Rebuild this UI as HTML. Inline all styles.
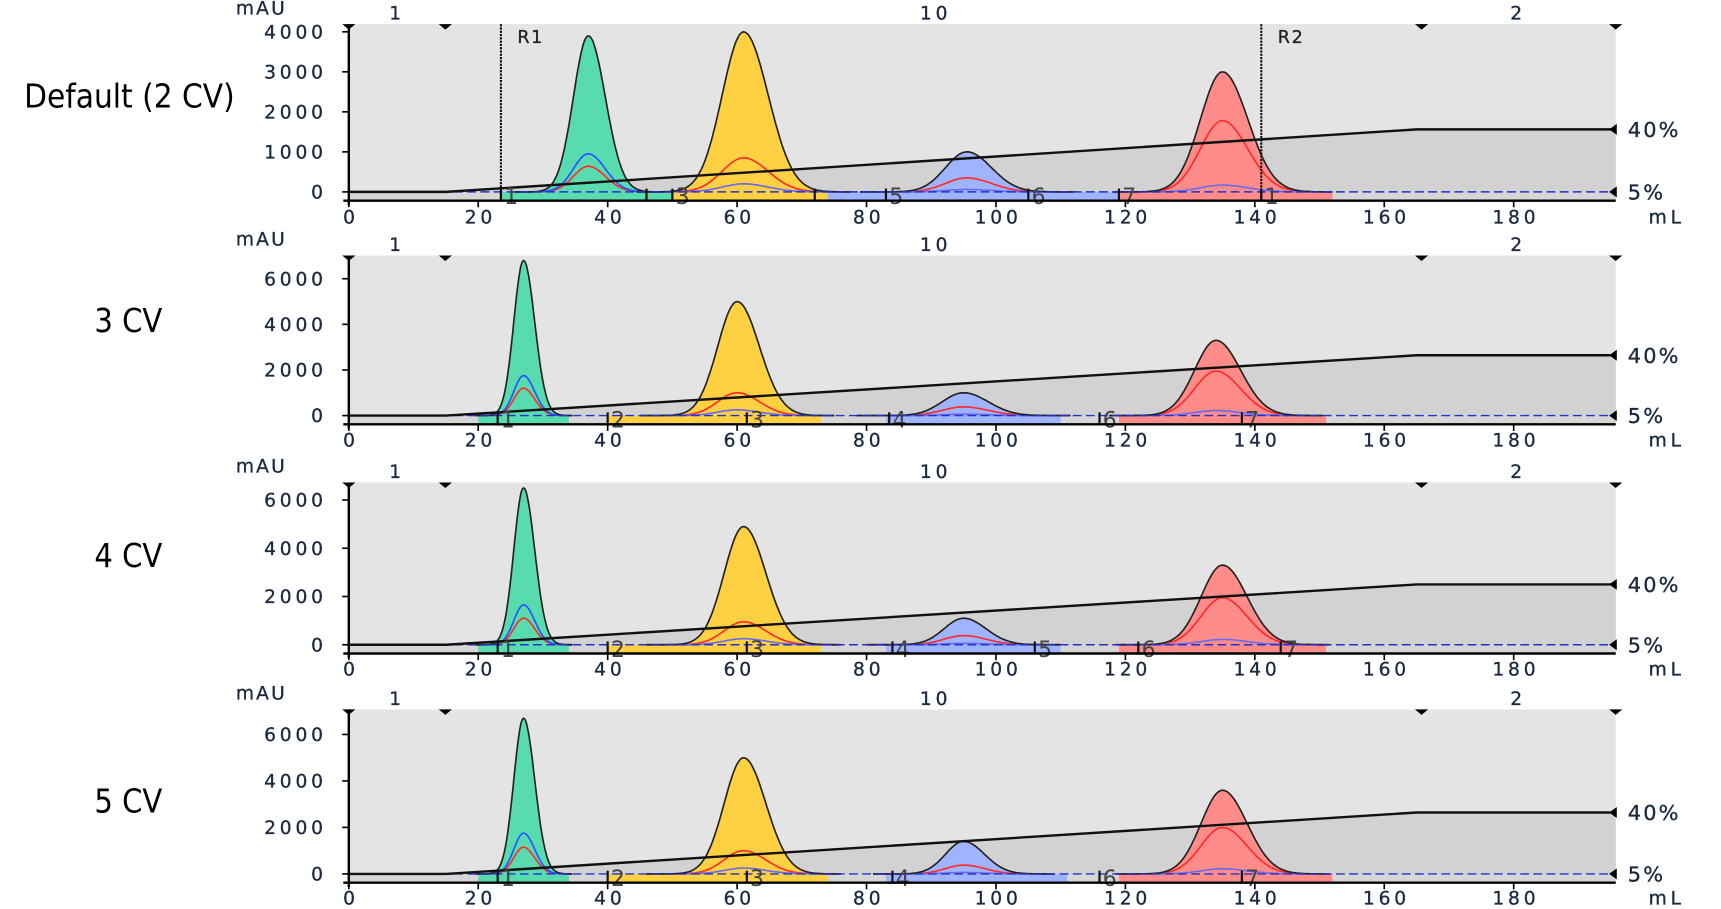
<!DOCTYPE html>
<html><head><meta charset="utf-8"><style>
html,body{margin:0;padding:0;background:#fff;width:1721px;height:909px;overflow:hidden}
svg{display:block}
text{font-family:"DejaVu Sans",sans-serif}
</style></head><body>
<svg id="s" width="1721" height="909" viewBox="0 0 1569 829" preserveAspectRatio="none" xmlns="http://www.w3.org/2000/svg">
<text x="22" y="98" font-family="Liberation Sans Narrow, Liberation Sans, sans-serif" font-size="30" textLength="192" lengthAdjust="spacingAndGlyphs" fill="#000">Default (2 CV)</text>
<text x="86" y="303" font-family="Liberation Sans, sans-serif" font-size="30" textLength="62" lengthAdjust="spacingAndGlyphs" fill="#000">3 CV</text>
<text x="86" y="517" font-family="Liberation Sans, sans-serif" font-size="30" textLength="62" lengthAdjust="spacingAndGlyphs" fill="#000">4 CV</text>
<text x="86" y="741" font-family="Liberation Sans, sans-serif" font-size="30" textLength="62" lengthAdjust="spacingAndGlyphs" fill="#000">5 CV</text>
</svg>
<script>
const S=document.getElementById('s');const NS='http://www.w3.org/2000/svg';
function el(t,a,txt){const e=document.createElementNS(NS,t);for(const k in a)e.setAttribute(k,a[k]);if(txt!==undefined)e.textContent=txt;S.appendChild(e);return e;}
const X0=318,PX=5.9,XR=1473;const X=v=>X0+v*PX;
const panels=[
{top:22,y0:175,sc:36.5,ticks:[0,1000,2000,3000,4000],y40:118,ax:183,lab:197,
 peaks:[[37,3900,2.3,'#58dcaf',950,640],[61,4000,3.3,'#ffd042',200,850],[95.5,1000,3.3,'#9fb4ff',60,350],[135,3000,3.4,'#ff8c88',170,1780]],
 fr:[[23.5,50,'#58dcaf'],[50,74,'#ffd042'],[74,119,'#9fb4ff'],[119,152,'#ff8c88']],
 fm:[[23.5,'1'],[46,''],[50,'3'],[72,''],[83,'5'],[105,'6'],[119,'7'],[141,'1']],R:true},
{top:233,y0:379,sc:20.8,ticks:[0,2000,4000,6000],y40:324,ax:387,lab:400,
 peaks:[[27,6800,1.5,'#58dcaf',1750,1200],[60,5000,3.0,'#ffd042',250,1000],[95,1000,3.3,'#9fb4ff',60,380],[134,3300,3.3,'#ff8c88',220,1950]],
 fr:[[20,34,'#58dcaf'],[40,73,'#ffd042'],[83,110,'#9fb4ff'],[119,151,'#ff8c88']],
 fm:[[23,'1'],[40,'2'],[61.5,'3'],[83.5,'4'],[116,'6'],[138,'7']]},
{top:440,y0:588,sc:22,ticks:[0,2000,4000,6000],y40:533,ax:596,lab:609,
 peaks:[[27,6500,1.5,'#58dcaf',1650,1100],[61,4900,3.0,'#ffd042',250,950],[95,1100,3.0,'#9fb4ff',60,380],[135,3300,3.3,'#ff8c88',220,1950]],
 fr:[[20,34,'#58dcaf'],[40,73,'#ffd042'],[83,110,'#9fb4ff'],[119,151,'#ff8c88']],
 fm:[[23,'1'],[40,'2'],[61.5,'3'],[84,'4'],[106,'5'],[122,'6'],[144,'7']]},
{top:647,y0:797,sc:21.2,ticks:[0,2000,4000,6000],y40:741,ax:805,lab:818,
 peaks:[[27,6700,1.5,'#58dcaf',1750,1150],[61,5000,3.0,'#ffd042',250,1000],[95,1400,2.8,'#9fb4ff',60,380],[135,3600,3.3,'#ff8c88',220,2000]],
 fr:[[20,34,'#58dcaf'],[40,74,'#ffd042'],[83,111,'#9fb4ff'],[119,152,'#ff8c88']],
 fm:[[23,'1'],[40,'2'],[61.5,'3'],[84,'4'],[116,'6'],[138,'7']]}
];
const C='#1a2a40';
const TS={'font-size':17,fill:C,'letter-spacing':3.5,stroke:C,'stroke-width':0.3};
function T(x,y,s,extra){return el('text',Object.assign({x:x,y:y},TS,extra||{}),s);}
panels.forEach(p=>{
 const Y=v=>p.y0-v*p.sc/1000;
 el('rect',{x:X0,y:p.top,width:XR-X0,height:p.ax-p.top,fill:'#e4e4e4'});
 const g=`M${X0},${p.y0} L${X(15)},${p.y0} L${X(165)},${p.y40} L${XR},${p.y40} L${XR},${p.ax} L${X0},${p.ax}Z`;
 el('path',{d:g,fill:'#d2d2d2'});
 el('rect',{x:X0,y:p.y0,width:XR-X0,height:p.ax-p.y0,fill:'#d6d6d6'});
 p.fr.forEach(f=>el('rect',{x:X(f[0]),y:p.y0,width:X(f[1])-X(f[0]),height:p.ax-p.y0-1,fill:f[2]}));
 p.peaks.forEach(k=>{
  const [c,h,sg,col,hb,hr]=k;
  const pts=[];for(let v=c-5*sg;v<=c+5*sg+0.01;v+=sg/10){const s=v>c?1.15:1;const zz=(v-c)/(sg*s);pts.push([X(v),Math.exp(-zz*zz/2)]);}
  const d=f=>pts.map((q,i)=>(i?'L':'M')+q[0].toFixed(1)+','+(p.y0-q[1]*f*p.sc/1000).toFixed(1)).join(' ');
  el('path',{d:d(h)+` L${pts[pts.length-1][0]},${p.y0} L${pts[0][0]},${p.y0}Z`,fill:col});
  el('path',{d:d(hr),fill:'none',stroke:'#ff2a2a','stroke-width':1.5});
  el('path',{d:d(hb),fill:'none',stroke:hb>500?'#2255ff':'#6a6aee','stroke-width':1.5});
  el('path',{d:d(h),fill:'none',stroke:'#222','stroke-width':1.5});
 });
 el('line',{x1:X0,y1:p.y0,x2:XR,y2:p.y0,stroke:'#2233cc','stroke-width':1.3,'stroke-dasharray':'8,4'});
 el('path',{d:`M${X0},${p.y0} L${X(15)},${p.y0} L${X(165)},${p.y40} L${XR},${p.y40}`,fill:'none',stroke:'#111','stroke-width':2.2});
 p.fm.forEach(m=>{el('line',{x1:X(m[0]),y1:p.y0-3,x2:X(m[0]),y2:p.ax,stroke:'#111','stroke-width':2});
  if(m[1])el('text',{x:X(m[0])+3,y:p.ax+3,'font-size':20,fill:'#444'},m[1]);});
 if(p.R){[[23.5,'R1'],[141,'R2']].forEach(r=>{el('line',{x1:X(r[0]),y1:p.top,x2:X(r[0]),y2:p.ax,stroke:'#000','stroke-width':1.8,'stroke-dasharray':'2,1'});
  T(X(r[0])+15,p.top+17,r[1],{'font-size':16,'letter-spacing':1.5,fill:'#222',stroke:'#222'});});}
 el('line',{x1:X0,y1:p.top,x2:X0,y2:p.ax+4,stroke:'#000','stroke-width':2.2});
 el('line',{x1:X0-5,y1:p.ax,x2:XR,y2:p.ax,stroke:'#000','stroke-width':2.2});
 p.ticks.forEach(t=>{el('line',{x1:X0-6,y1:Y(t),x2:X0,y2:Y(t),stroke:'#000','stroke-width':1.5});
  T(X0-20,Y(t)+6,String(t),{'text-anchor':'end'});});
 for(let v=0;v<=180;v+=20){el('line',{x1:X(v),y1:p.ax,x2:X(v),y2:p.ax+6,stroke:'#000','stroke-width':1.5});
  T(X(v)+2,p.lab+7,String(v),{'text-anchor':'middle'});}
 T(1503,p.lab+7,'mL');
 T(215,p.top-9,'mAU',{'letter-spacing':2});
 T(362,p.top-4,'1',{'text-anchor':'middle'});
 T(853,p.top-4,'10',{'text-anchor':'middle'});
 T(1384,p.top-4,'2',{'text-anchor':'middle'});
 [X0,406,1296,XR].forEach(x=>el('path',{d:`M${x-6},${p.top} L${x+6},${p.top} L${x},${p.top+5}Z`,fill:'#000'}));
 [[p.y40,'40%'],[p.y0,'5%']].forEach(q=>{el('path',{d:`M${XR-6},${q[0]} L${XR+1},${q[0]-5} L${XR+1},${q[0]+5}Z`,fill:'#000'});
  T(1484,q[0]+7,q[1],{'font-size':19,'letter-spacing':2});});
});
</script>
</body></html>
